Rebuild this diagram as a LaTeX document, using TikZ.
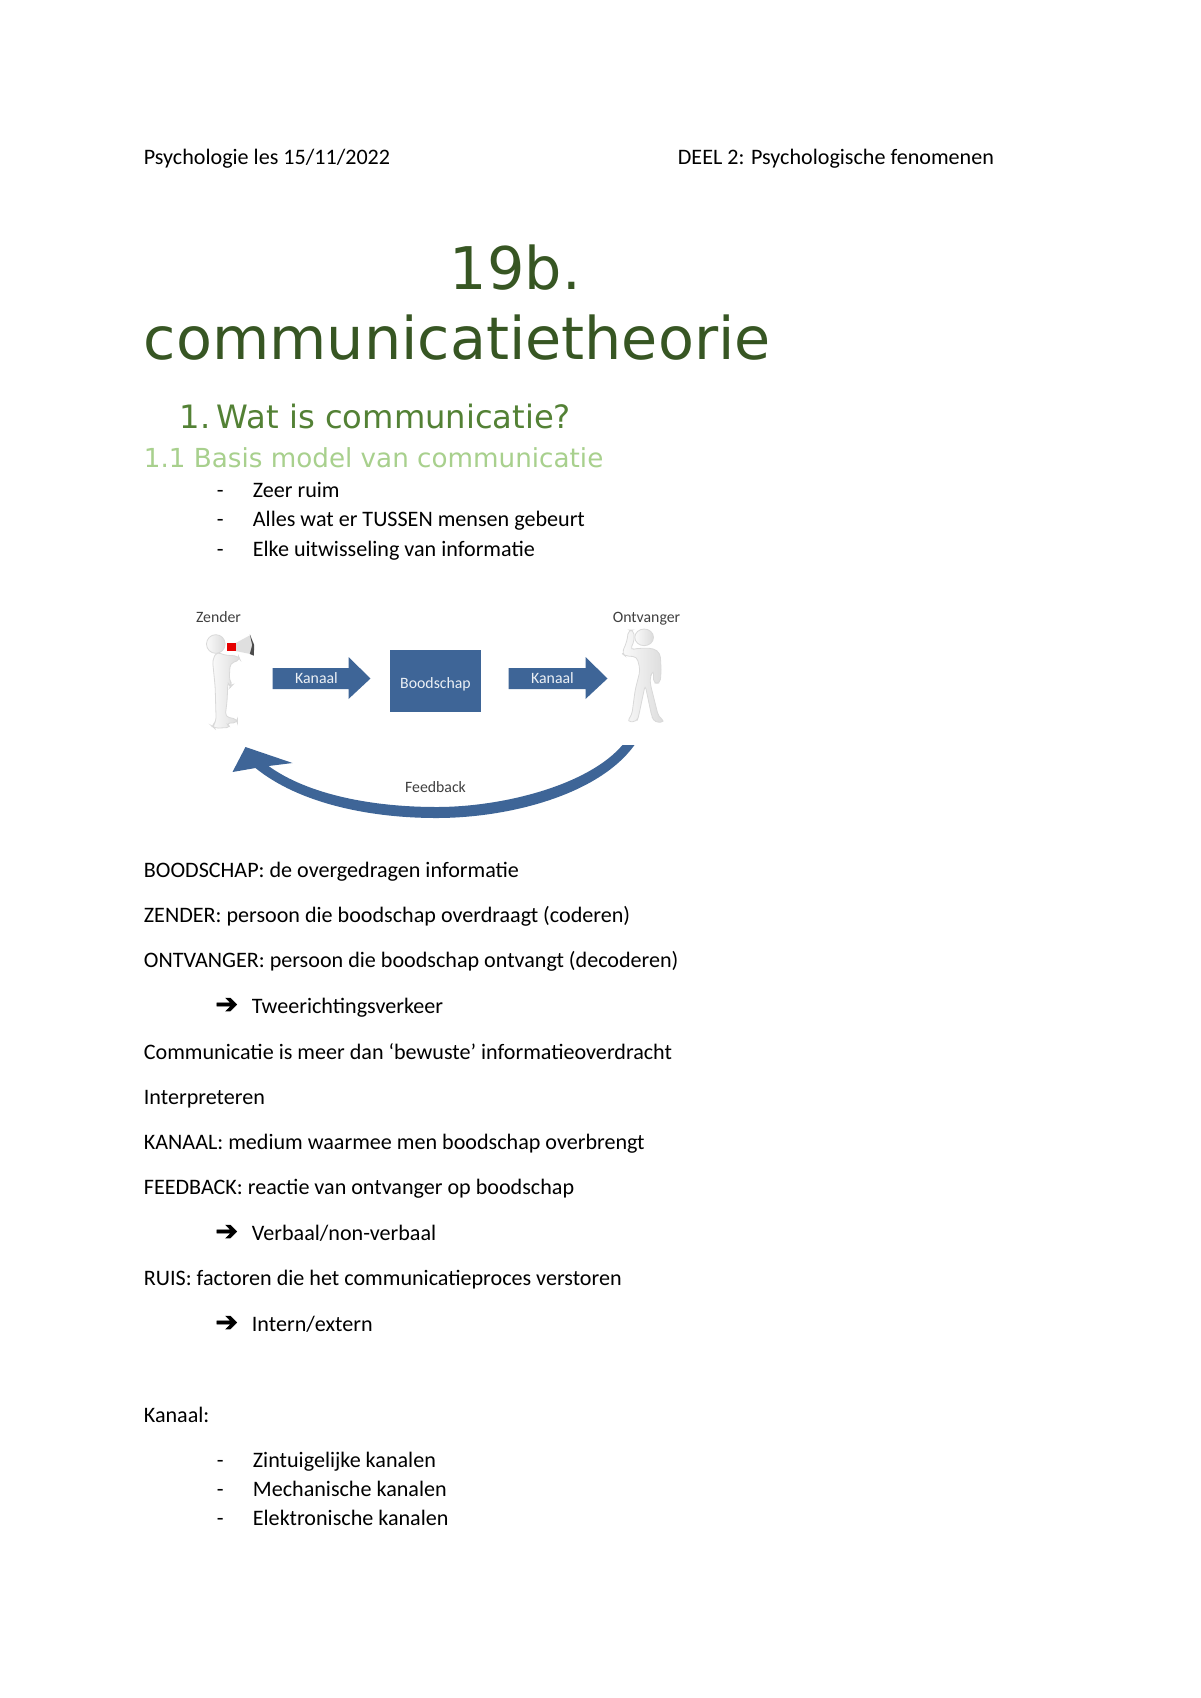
\documentclass[tikz,border=0pt]{standalone}
\usepackage{fontspec}
\setmainfont{Carlito}
\newfontfamily\headfont{DejaVu Sans}
\newfontfamily\arrowfont[FakeBold=2.5]{DejaVu Sans}
\tikzset{
  bodytext/.style={anchor=base west,inner sep=0pt,font=\fontsize{11.05}{13}\selectfont},
  titletext/.style={anchor=base west,inner sep=0pt,color=titlegreen,font=\headfont\fontsize{29.4}{34}\selectfont},
  headtext/.style={anchor=base west,inner sep=0pt,color=headgreen,font=\headfont\fontsize{16.1}{20}\selectfont},
  imglabel/.style={anchor=base,inner sep=0pt,font=\fontsize{7.9}{10}\selectfont},
  figure/.style={left color=gray!4,right color=gray!28,draw=gray!30,line width=0.4pt,rounded corners=2pt}
}
\definecolor{titlegreen}{HTML}{375623}
\definecolor{headgreen}{HTML}{538135}
\definecolor{subgreen}{HTML}{A8D08D}
\definecolor{imgblue}{HTML}{3E6597}
\begin{document}
\begin{tikzpicture}[x=0.5pt,y=-0.5pt]
  \useasboundingbox (1.5,0) rectangle (1201.5,1698);
  \fill[white] (1.5,0) rectangle (1201.5,1698);

  % header
  \node[bodytext] (lesdate) at (145,164) {Psychologie les 15/11/2022};
  \node[bodytext] (deel) at (679,164) {DEEL 2: Psychologische fenomenen};

  % titles
  \node[titletext] (title) at (451,289) {19b.};
  \node[titletext] (titletwo) at (145,359) {communicatietheorie};
  \node[headtext] (numone) at (181,428) {1.};
  \node[headtext] (wat) at (218,428) {Wat is communicatie?};
  \node[anchor=base west,inner sep=0pt,color=subgreen,font=\headfont\fontsize{13.1}{16}\selectfont] (basis) at (145,467) {1.1 Basis model van communicatie};

  % first list
  \foreach \y/\t in {497/Zeer ruim,526/Alles wat er TUSSEN mensen gebeurt,556/Elke uitwisseling van informatie}{
    \node[bodytext] (dash\y) at (218,\y) {-};
    \node[bodytext] (item\y) at (254,\y) {\t};
  }

  % the model
  \node[imglabel,text=black!75] (zender) at (220,622) {Zender};
  \node[imglabel,text=black!75] (ontvanger) at (648,622) {Ontvanger};

  \foreach \x/\l/\n in {274/98/kanaalone,510/99/kanaaltwo}{
    \fill[imgblue] (\x,668) -- ({\x+\l-22},668) -- ({\x+\l-22},657) -- ({\x+\l},678.5)
      -- ({\x+\l-22},699) -- ({\x+\l-22},689) -- (\x,689) -- cycle;
    \node[imglabel,text=white!90!imgblue] (\n) at ({\x+44},683) {Kanaal};
  }
  \fill[imgblue] (391,650) rectangle (482,712);
  \node[imglabel,text=white!90!imgblue] (boodschap) at (437,688) {Boodschap};

  \fill[imgblue] (636,745) .. controls (600,795) and (510,818) .. (438,818)
    .. controls (370,818) and (300,803) .. (257,768)
    -- (234,772) -- (247,747) -- (294,763) -- (270,766)
    .. controls (310,795) and (375,807) .. (438,807)
    .. controls (505,807) and (590,785) .. (624,745) -- cycle;
  \node[imglabel,text=black!75] (feedback) at (437,792) {Feedback};

  % left figure
  \begin{scope}[shift={(190,620)},scale=1/3]
    \fill[gray!25] (136,72) -- (186,45) -- (192,75) -- (186,102) -- (136,92) -- cycle;
    \fill[black!70] (184,43) -- (197,75) -- (196,107) -- (184,102) -- (191,75) -- cycle;
    \fill[red!90!black] (114,68) rectangle (142,94);
    \draw[figure] (85,95) -- (105,105) -- (150,108) -- (155,120) -- (125,130) -- (122,180)
      -- (132,195) -- (125,202) -- (118,185) -- (116,240) -- (110,290) -- (147,298)
      -- (147,308) -- (112,310) -- (127,322) -- (78,325) -- (70,318) -- (83,305)
      -- (80,200) -- (72,120) -- cycle;
    \draw[figure] (82,72) ellipse (28 and 28);
  \end{scope}

  % right figure
  \begin{scope}[shift={(610,620)},scale=1/3]
    \draw[figure] (85,85) -- (135,85) -- (155,100) -- (158,150) -- (155,190) -- (135,190)
      -- (135,150) -- (125,170) -- (125,190) -- (150,290) -- (170,305) -- (140,308)
      -- (130,290) -- (110,195) -- (90,290) -- (85,305) -- (55,305) -- (70,285)
      -- (80,210) -- (95,150) -- (85,110) -- (50,108) -- (40,100) -- (55,65) -- (60,30)
      -- (75,30) -- (78,60) -- (65,90) -- cycle;
    \draw[figure] (107,52) ellipse (28 and 25);
  \end{scope}

  % definitions
  \foreach \y/\t in {877/{BOODSCHAP: de overgedragen informatie},
                     922/{ZENDER: persoon die boodschap overdraagt (coderen)},
                     967/{ONTVANGER: persoon die boodschap ontvangt (decoderen)},
                     1059/{Communicatie is meer dan ‘bewuste’ informatieoverdracht},
                     1104/{Interpreteren},
                     1149/{KANAAL: medium waarmee men boodschap overbrengt},
                     1194/{FEEDBACK: reactie van ontvanger op boodschap},
                     1285/{RUIS: factoren die het communicatieproces verstoren},
                     1422/{Kanaal:}}
    \node[bodytext] (line\y) at (145,\y) {\t};

  % arrow lines
  \foreach \y/\t in {1013/Tweerichtingsverkeer,1240/Verbaal\slash non-verbaal,1331/Intern\slash extern}{
    \node[anchor=base west,inner sep=0pt,font=\arrowfont\fontsize{13.5}{15}\selectfont] (arrow\y) at (216.5,\y) {➔};
    \node[bodytext] (arrowtext\y) at (253,\y) {\t};
  }

  % second list
  \foreach \y/\t in {1467/Zintuigelijke kanalen,1496/Mechanische kanalen,1525/Elektronische kanalen}{
    \node[bodytext] (dash\y) at (218,\y) {-};
    \node[bodytext] (item\y) at (254,\y) {\t};
  }
\end{tikzpicture}
\end{document}
